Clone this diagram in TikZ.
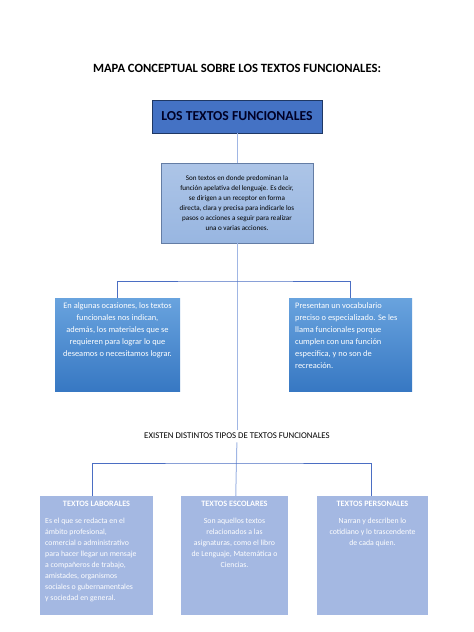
\documentclass[tikz,border=0pt]{standalone}
\usepackage{fontspec}
\setmainfont{Carlito}
\usetikzlibrary{positioning, calc}

\definecolor{topblue}{RGB}{68,114,196}
\definecolor{topedge}{RGB}{31,56,100}
\definecolor{defblue}{RGB}{152,182,225}
\definecolor{defedge}{RGB}{100,125,165}
\definecolor{midtop}{RGB}{105,163,222}
\definecolor{midbot}{RGB}{55,120,195}
\definecolor{lowblue}{RGB}{164,184,226}
\definecolor{linklight}{RGB}{160,182,228}
\definecolor{linkdark}{RGB}{75,110,195}

\begin{document}
\begin{tikzpicture}[
    x=1pt, y=-1pt,
    box/.style={minimum width=#1, inner sep=0pt, outer sep=0pt},
    mainbox/.style={draw=topedge, fill=topblue, minimum width=170pt, minimum height=33pt, inner sep=0pt},
    defbox/.style={draw=defedge, top color=defblue!80!white, bottom color=defblue, minimum width=152pt, minimum height=80pt, inner sep=0pt},
    midbox/.style={top color=midtop, bottom color=midbot, minimum height=93pt},
    lowbox/.style={fill=lowblue, minimum height=119pt},
    boxtext/.style={text=white, inner sep=0pt, font=\fontsize{8.4}{12}\selectfont},
    lowtext/.style={text=white, inner sep=0pt, font=\fontsize{7.8}{11}\selectfont},
    lowtitle/.style={text=white, inner sep=0pt, font=\bfseries\fontsize{8.2}{9}\selectfont},
    link/.style={draw=linklight, line width=1pt},
    branch/.style={draw=linkdark, line width=1pt},
    ]

\useasboundingbox[fill=white] (0,0) rectangle (474,632);

\node[font=\bfseries\fontsize{12.6}{14}\selectfont] at (237,68) (title)
    {MAPA CONCEPTUAL SOBRE LOS TEXTOS FUNCIONALES:};

\node[mainbox, font=\bfseries\fontsize{13.7}{15}\selectfont, text=black!85!blue] at (237,116.5) (main)
    {LOS TEXTOS FUNCIONALES};

\node[defbox, align=center, font=\fontsize{7.1}{10}\selectfont] at (237,203) (def)
    {Son textos en donde predominan la\\función apelativa del lenguaje. Es decir,\\se dirigen a un receptor en forma\\directa, clara y precisa para indicarle los\\pasos o acciones a seguir para realizar\\una o varias acciones.};

% second level
\node[box=125pt, midbox] at (117.5,344.5) (left) {};
\node[box=123pt, midbox] at (350.5,344.5) (right) {};

\node[boxtext, align=center, below=4pt of left.north] (lefttext)
    {En algunas ocasiones, los textos\\funcionales nos indican,\\además, los materiales que se\\requieren para lograr lo que\\deseamos o necesitamos lograr.};
\node[boxtext, align=left, anchor=north west] at ($(right.north west)+(6,4)$) (righttext)
    {Presentan un vocabulario\\preciso o especializado. Se les\\llama funcionales porque\\cumplen con una función\\especifica, y no son de\\recreación.};

\node[font=\fontsize{8.8}{10}\selectfont] at (237,436) (tipos)
    {EXISTEN DISTINTOS TIPOS DE TEXTOS FUNCIONALES};

% third level
\node[box=113pt, lowbox] at (96.5,555.5) (lab) {};
\node[box=107pt, lowbox] at (234.5,555.5) (esc) {};
\node[box=111pt, lowbox] at (372.5,555.5) (per) {};

\node[lowtitle, below=5pt of lab.north] (labtitle) {TEXTOS LABORALES};
\node[lowtext, align=left, anchor=north west] at ($(lab.north west)+(5,22)$) (labtext)
    {Es el que se redacta en el\\ámbito profesional,\\comercial o administrativo\\para hacer llegar un mensaje\\a compañeros de trabajo,\\amistades, organismos\\sociales o gubernamentales\\y sociedad en general.};

\node[lowtitle, below=5pt of esc.north] (esctitle) {TEXTOS ESCOLARES};
\node[lowtext, align=center, below=22pt of esc.north] (esctext)
    {Son aquellos textos\\relacionados a las\\asignaturas, como el libro\\de Lenguaje, Matemática o\\Ciencias.};

\node[lowtitle, below=5pt of per.north] (pertitle) {TEXTOS PERSONALES};
\node[lowtext, align=center, below=22pt of per.north] (pertext)
    {Narran y describen lo\\cotidiano y lo trascendente\\de cada quien.};

% connectors
\coordinate (upsplit) at (237,281);
\coordinate (lowsplit) at (237,463);

\draw[link] (main) -- (def);
\draw[link] (def) -- (tipos);
\draw[link] (tipos) -- (esc);
\draw[branch] (left.north) |- (upsplit) -| (right.north);
\draw[branch] ([xshift=-4pt]lab.north) |- (lowsplit) -| ([xshift=-1pt]per.north);

\end{tikzpicture}
\end{document}
